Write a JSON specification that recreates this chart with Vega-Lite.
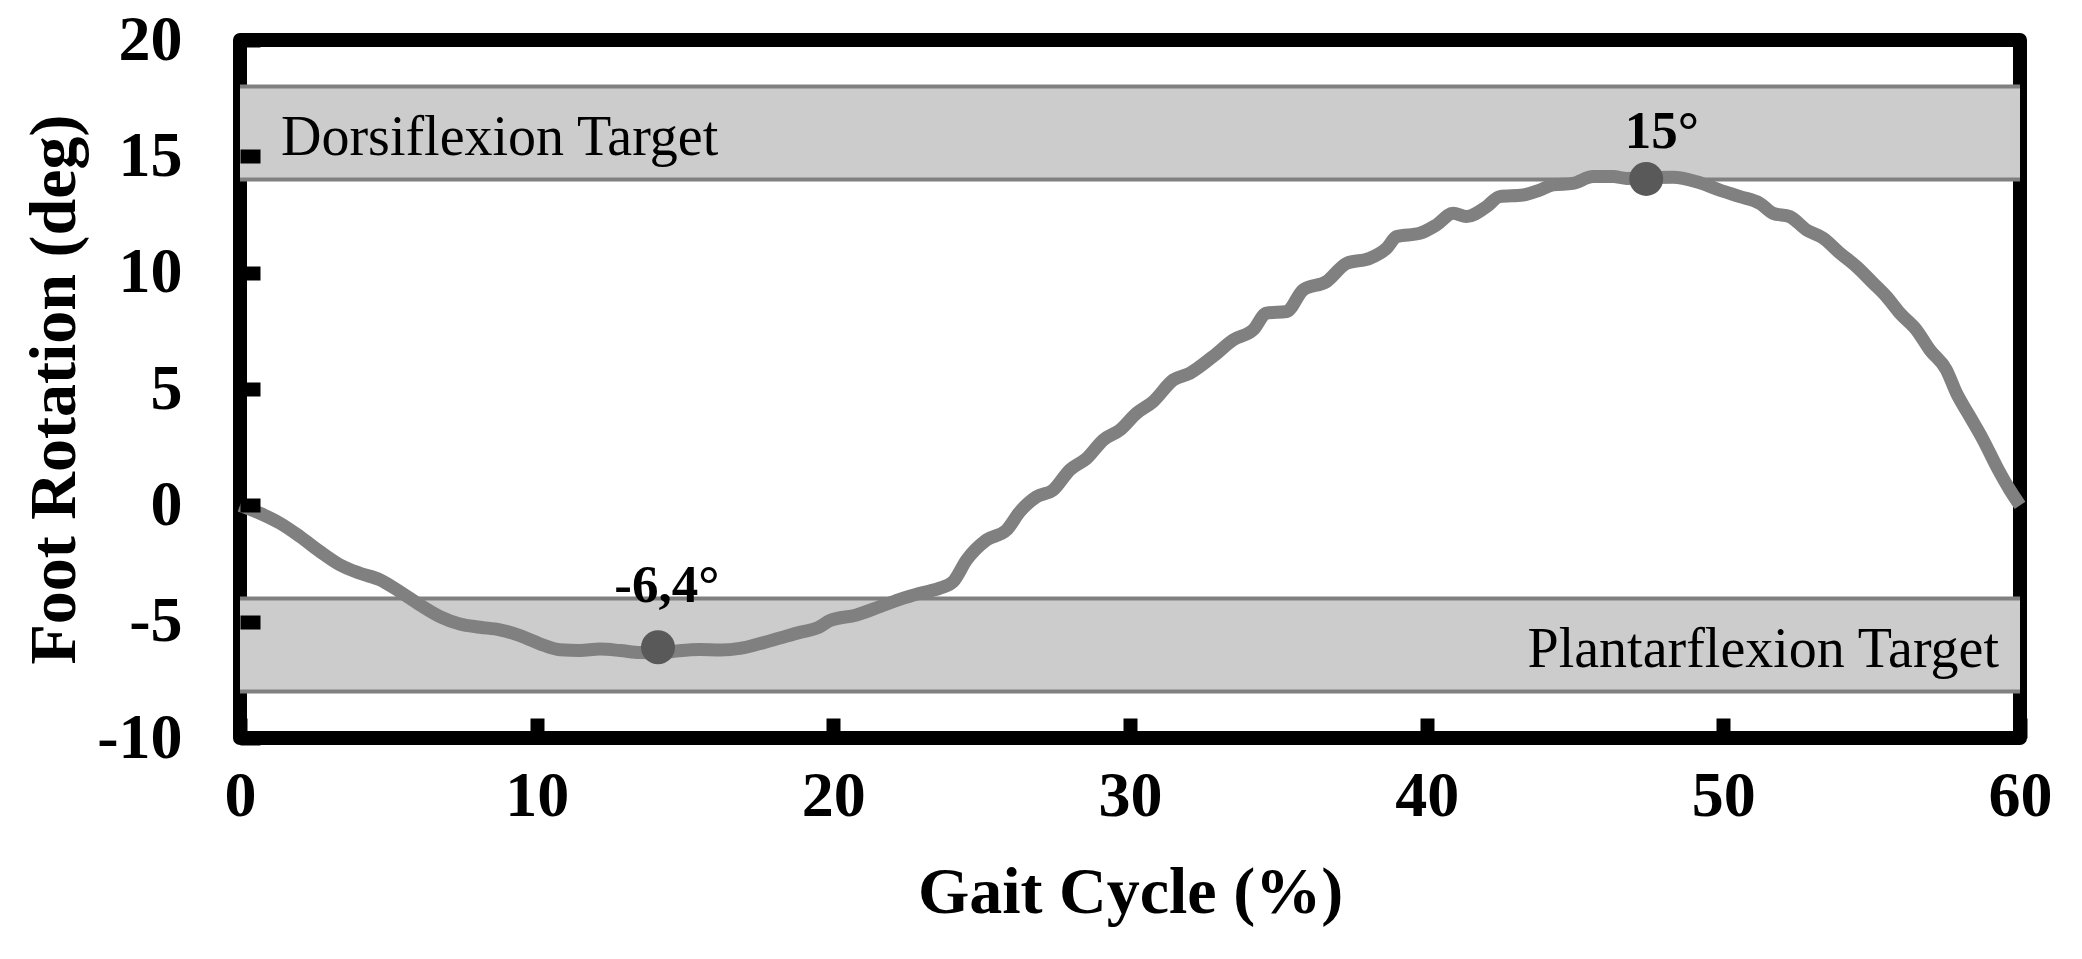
{
  "$schema": "https://vega.github.io/schema/vega-lite/v6.json",
  "width": 1780,
  "height": 698,
  "autosize": {"type": "none"},
  "padding": {"left": 240, "top": 40, "right": 62, "bottom": 221},
  "background": "white",
  "config": {
    "view": {"stroke": "black", "strokeWidth": 14, "strokeJoin": "round"},
    "font": "Liberation Serif"
  },
  "datasets": {
    "curve": [
      {"gait": 0, "rot": 0}, {"gait": 0.67, "rot": -0.34}, {"gait": 1.35, "rot": -0.77}, {"gait": 2.02, "rot": -1.34},
      {"gait": 2.7, "rot": -1.99}, {"gait": 3.37, "rot": -2.56}, {"gait": 4.04, "rot": -2.92}, {"gait": 4.72, "rot": -3.2},
      {"gait": 5.39, "rot": -3.71}, {"gait": 6.07, "rot": -4.28}, {"gait": 6.74, "rot": -4.78}, {"gait": 7.41, "rot": -5.1},
      {"gait": 8.09, "rot": -5.24}, {"gait": 8.76, "rot": -5.35}, {"gait": 9.44, "rot": -5.6}, {"gait": 10.11, "rot": -5.95},
      {"gait": 10.79, "rot": -6.21}, {"gait": 11.46, "rot": -6.24}, {"gait": 12.13, "rot": -6.18}, {"gait": 12.81, "rot": -6.24},
      {"gait": 13.48, "rot": -6.33}, {"gait": 14.1, "rot": -6.35}, {"gait": 14.8, "rot": -6.25}, {"gait": 15.5, "rot": -6.2},
      {"gait": 16.2, "rot": -6.22}, {"gait": 16.85, "rot": -6.15}, {"gait": 17.5, "rot": -5.95}, {"gait": 18.2, "rot": -5.7},
      {"gait": 18.9, "rot": -5.45}, {"gait": 19.5, "rot": -5.25}, {"gait": 19.89, "rot": -4.95}, {"gait": 20.78, "rot": -4.71},
      {"gait": 21.57, "rot": -4.35}, {"gait": 22.24, "rot": -4.04}, {"gait": 22.92, "rot": -3.78}, {"gait": 23.59, "rot": -3.56},
      {"gait": 24.04, "rot": -3.28}, {"gait": 24.49, "rot": -2.35}, {"gait": 25.16, "rot": -1.49}, {"gait": 25.84, "rot": -1.06},
      {"gait": 26.29, "rot": -0.27}, {"gait": 26.85, "rot": 0.37}, {"gait": 27.41, "rot": 0.66}, {"gait": 27.97, "rot": 1.52},
      {"gait": 28.54, "rot": 2.02}, {"gait": 29.1, "rot": 2.81}, {"gait": 29.66, "rot": 3.24}, {"gait": 30.22, "rot": 3.96},
      {"gait": 30.78, "rot": 4.46}, {"gait": 31.46, "rot": 5.39}, {"gait": 32.02, "rot": 5.68}, {"gait": 32.8, "rot": 6.4},
      {"gait": 33.48, "rot": 7.11}, {"gait": 34.15, "rot": 7.54}, {"gait": 34.6, "rot": 8.26}, {"gait": 35.28, "rot": 8.33},
      {"gait": 35.84, "rot": 9.26}, {"gait": 36.63, "rot": 9.62}, {"gait": 37.3, "rot": 10.4}, {"gait": 38.09, "rot": 10.62},
      {"gait": 38.65, "rot": 11.05}, {"gait": 38.99, "rot": 11.55}, {"gait": 39.77, "rot": 11.69}, {"gait": 40.33, "rot": 12.05},
      {"gait": 40.89, "rot": 12.55}, {"gait": 41.34, "rot": 12.41}, {"gait": 42.02, "rot": 12.84}, {"gait": 42.46, "rot": 13.27},
      {"gait": 43.25, "rot": 13.34}, {"gait": 43.81, "rot": 13.55}, {"gait": 44.26, "rot": 13.77}, {"gait": 44.93, "rot": 13.84},
      {"gait": 45.61, "rot": 14.13}, {"gait": 46.29, "rot": 14.13}, {"gait": 46.74, "rot": 14.05}, {"gait": 47.4, "rot": 14.08},
      {"gait": 48.31, "rot": 14.1}, {"gait": 49.1, "rot": 13.91}, {"gait": 49.88, "rot": 13.55}, {"gait": 50.56, "rot": 13.27},
      {"gait": 51.23, "rot": 12.98}, {"gait": 51.68, "rot": 12.55}, {"gait": 52.24, "rot": 12.41}, {"gait": 52.8, "rot": 11.84},
      {"gait": 53.37, "rot": 11.48}, {"gait": 53.93, "rot": 10.84}, {"gait": 54.49, "rot": 10.26}, {"gait": 55.05, "rot": 9.55},
      {"gait": 55.5, "rot": 8.97}, {"gait": 55.95, "rot": 8.26}, {"gait": 56.51, "rot": 7.54}, {"gait": 56.96, "rot": 6.68},
      {"gait": 57.52, "rot": 5.82}, {"gait": 57.86, "rot": 4.82}, {"gait": 58.31, "rot": 3.82}, {"gait": 58.76, "rot": 2.81},
      {"gait": 59.21, "rot": 1.67}, {"gait": 59.66, "rot": 0.66}, {"gait": 60, "rot": 0}
    ],
    "bands": [
      {"name": "Dorsiflexion Target", "lo": 14, "hi": 18, "mid": 16},
      {"name": "Plantarflexion Target", "lo": -8, "hi": -4, "mid": -6}
    ],
    "edges": [{"v": 18}, {"v": 14}, {"v": -4}, {"v": -8}],
    "markers": [
      {"gait": 14.09, "rot": -6.1},
      {"gait": 47.4, "rot": 14.03}
    ],
    "notes": [
      {"gait": 14.39, "rot": -4.15, "label": "-6,4°"},
      {"gait": 47.93, "rot": 15.36, "label": "15°"}
    ]
  },
  "layer": [
    {
      "data": {"name": "bands"},
      "mark": {"type": "rect", "fill": "#cccccc"},
      "encoding": {
        "y": {"field": "lo", "type": "quantitative", "scale": {"domain": [-10, 20], "nice": false, "zero": false},
          "axis": {
            "values": [-10, -5, 0, 5, 10, 15, 20],
            "labelExpr": "datum.value < 0 ? '-' + abs(datum.value) : '' + datum.value",
            "domain": false, "grid": false, "zindex": 1,
            "tickSize": -20, "tickWidth": 14, "tickColor": "black",
            "labelFont": "Liberation Serif", "labelFontWeight": "bold", "labelFontSize": 64, "labelColor": "black",
            "labelPadding": 78,
            "title": "Foot Rotation (deg)",
            "titleFont": "Liberation Serif", "titleFontWeight": "bold", "titleFontSize": 66, "titleColor": "black",
            "titlePadding": 8
          }
        },
        "y2": {"field": "hi"}
      }
    },
    {
      "data": {"name": "edges"},
      "mark": {"type": "rule", "stroke": "#808080", "strokeWidth": 4},
      "encoding": {"y": {"field": "v", "type": "quantitative"}}
    },
    {
      "data": {"name": "curve"},
      "mark": {"type": "line", "stroke": "#808080", "strokeWidth": 13, "strokeJoin": "round", "interpolate": "monotone"},
      "encoding": {
        "x": {"field": "gait", "type": "quantitative", "scale": {"domain": [0, 60], "nice": false, "zero": false},
          "axis": {
            "values": [0, 10, 20, 30, 40, 50, 60],
            "domain": false, "grid": false, "zindex": 1,
            "labelFlush": false, "labelOverlap": false,
            "tickSize": -20, "tickWidth": 14, "tickColor": "black",
            "labelFont": "Liberation Serif", "labelFontWeight": "bold", "labelFontSize": 64, "labelColor": "black",
            "labelPadding": 46,
            "title": "Gait Cycle (%)",
            "titleFont": "Liberation Serif", "titleFontWeight": "bold", "titleFontSize": 66, "titleColor": "black",
            "titlePadding": 32
          }
        },
        "y": {"field": "rot", "type": "quantitative"}
      }
    },
    {
      "data": {"name": "markers"},
      "mark": {"type": "point", "filled": true, "shape": "circle", "size": 1156, "color": "#595959", "opacity": 1},
      "encoding": {
        "x": {"field": "gait", "type": "quantitative"},
        "y": {"field": "rot", "type": "quantitative"}
      }
    },
    {
      "data": {"name": "notes"},
      "mark": {"type": "text", "font": "Liberation Serif", "fontWeight": "bold", "fontSize": 53, "color": "black", "align": "center", "baseline": "alphabetic"},
      "encoding": {
        "x": {"field": "gait", "type": "quantitative"},
        "y": {"field": "rot", "type": "quantitative"},
        "text": {"field": "label"}
      }
    },
    {
      "data": {"name": "bands"},
      "transform": [{"filter": "datum.mid > 0"}],
      "mark": {"type": "text", "font": "Liberation Serif", "fontSize": 56, "color": "black", "align": "left", "baseline": "alphabetic", "dx": 41, "dy": 22},
      "encoding": {
        "x": {"datum": 0, "type": "quantitative"},
        "y": {"field": "mid", "type": "quantitative"},
        "text": {"field": "name"}
      }
    },
    {
      "data": {"name": "bands"},
      "transform": [{"filter": "datum.mid < 0"}],
      "mark": {"type": "text", "font": "Liberation Serif", "fontSize": 56, "color": "black", "align": "right", "baseline": "alphabetic", "dx": -21, "dy": 22},
      "encoding": {
        "x": {"datum": 60, "type": "quantitative"},
        "y": {"field": "mid", "type": "quantitative"},
        "text": {"field": "name"}
      }
    }
  ]
}
